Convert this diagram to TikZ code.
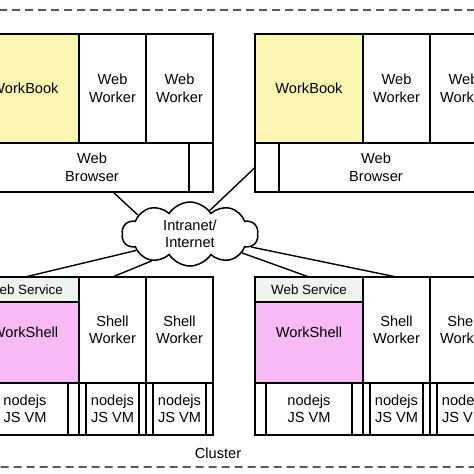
\documentclass[tikz,border=0pt]{standalone}
\usepackage{fontspec}
\setmainfont{Liberation Sans}
\usetikzlibrary{positioning, shapes.symbols, calc}
\definecolor{bookyellow}{RGB}{250,246,178}
\definecolor{shellpink}{RGB}{247,186,245}
\definecolor{servgray}{RGB}{237,244,237}

\begin{document}
\begin{tikzpicture}
[x=1pt, y=-1pt,
 cellfont/.style={font=\fontsize{14.6}{17.5}\selectfont},
 cell/.style={rectangle, draw=black, line width=1.6pt, inner sep=0pt, outer sep=0pt, cellfont},
 link/.style={line width=1.4pt},
 every text node part/.style={align=center}]

\useasboundingbox (0,0) rectangle (474,474);

% cluster frame
\draw[line width=1.3pt, dash pattern=on 8pt off 5pt, rounded corners=6pt] (-6,10) rectangle (480,467);
\node[cellfont] (cluster) at (218,453) {Cluster};

% top left: browser
\node[cell, fill=bookyellow, minimum width=108pt, minimum height=109pt, anchor=north west] (bookL) at (-29,34) {WorkBook};
\node[cell, minimum width=67pt, minimum height=109pt, right=0pt of bookL] (wwL1) {Web\\Worker};
\node[cell, minimum width=67pt, minimum height=109pt, right=0pt of wwL1] (wwL2) {Web\\Worker};
\node[cell, minimum width=218pt, minimum height=49pt, anchor=north west,
  label={[cellfont, xshift=12pt]center:Web\\Browser}] (brL) at (bookL.south west) {};
\node[cell, minimum width=24pt, minimum height=49pt, right=0pt of brL] (brLs) {};

% top right: browser
\node[cell, fill=bookyellow, minimum width=108pt, minimum height=109pt, anchor=north west] (bookR) at (255,34) {WorkBook};
\node[cell, minimum width=67pt, minimum height=109pt, right=0pt of bookR] (wwR1) {Web\\Worker};
\node[cell, minimum width=67pt, minimum height=109pt, right=0pt of wwR1] (wwR2) {Web\\Worker};
\node[cell, minimum width=24pt, minimum height=49pt, anchor=north west] (brRs) at (bookR.south west) {};
\node[cell, minimum width=218pt, minimum height=49pt, right=0pt of brRs,
  label={[cellfont, xshift=-12pt]center:Web\\Browser}] (brR) {};

% network
\node[cloud, draw, line width=1.5pt, cloud puffs=10, cloud puff arc=115, aspect=2.1,
  minimum width=136pt, minimum height=64pt, inner sep=0pt, cellfont] (net) at (190,234) {Intranet/\\Internet};

% bottom left: server
\node[cell, fill=servgray, minimum width=108pt, minimum height=25pt, anchor=north west,
  font=\fontsize{13.4}{16}\selectfont] (servL) at (-29,277) {Web Service};
\node[cell, fill=shellpink, minimum width=108pt, minimum height=81pt, below=0pt of servL,
  label={[cellfont, yshift=10pt]center:WorkShell}] (shellL) {};
\node[cell, minimum width=67pt, minimum height=106pt, anchor=north west] (swL1) at (servL.north east) {Shell\\Worker};
\node[cell, minimum width=67pt, minimum height=106pt, right=0pt of swL1] (swL2) {Shell\\Worker};
\node[cell, minimum width=108pt, minimum height=52pt, below=0pt of shellL] (vmL0) {};
\node[cell, minimum width=67pt, minimum height=52pt, below=0pt of swL1] (vmL1) {};
\node[cell, minimum width=67pt, minimum height=52pt, below=0pt of swL2] (vmL2) {};
\node[cell, minimum width=86pt, minimum height=52pt] (jsL0) at (vmL0) {nodejs\\JS VM};
\node[cell, minimum width=53pt, minimum height=52pt] (jsL1) at (vmL1) {nodejs\\JS VM};
\node[cell, minimum width=53pt, minimum height=52pt] (jsL2) at (vmL2) {nodejs\\JS VM};

% bottom right: server
\node[cell, fill=servgray, minimum width=108pt, minimum height=25pt, anchor=north west,
  font=\fontsize{13.4}{16}\selectfont] (servR) at (255,277) {Web Service};
\node[cell, fill=shellpink, minimum width=108pt, minimum height=81pt, below=0pt of servR,
  label={[cellfont, yshift=10pt]center:WorkShell}] (shellR) {};
\node[cell, minimum width=67pt, minimum height=106pt, anchor=north west] (swR1) at (servR.north east) {Shell\\Worker};
\node[cell, minimum width=67pt, minimum height=106pt, right=0pt of swR1] (swR2) {Shell\\Worker};
\node[cell, minimum width=108pt, minimum height=52pt, below=0pt of shellR] (vmR0) {};
\node[cell, minimum width=67pt, minimum height=52pt, below=0pt of swR1] (vmR1) {};
\node[cell, minimum width=67pt, minimum height=52pt, below=0pt of swR2] (vmR2) {};
\node[cell, minimum width=86pt, minimum height=52pt] (jsR0) at (vmR0) {nodejs\\JS VM};
\node[cell, minimum width=53pt, minimum height=52pt] (jsR1) at (vmR1) {nodejs\\JS VM};
\node[cell, minimum width=53pt, minimum height=52pt] (jsR2) at (vmR2) {nodejs\\JS VM};

% links
\draw[link] ([xshift=33pt]brL.south) -- (net.160);
\draw[link] (brRs.west) -- (net.50);
\draw[link] (net.197) -- (servL.north);
\draw[link] (net.215) -- (swL1.north);
\draw[link] (net.340) -- (servR.north);
\draw[link] (net.348) -- (swR1.north);

\end{tikzpicture}
\end{document}
